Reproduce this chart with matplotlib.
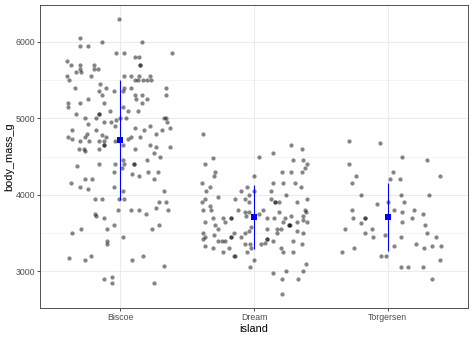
import matplotlib
matplotlib.use("Agg")
import matplotlib.pyplot as plt
from matplotlib.ticker import FixedLocator
import numpy as np

plt.rcParams['font.family'] = ['Liberation Sans', 'DejaVu Sans']

islands = ["Biscoe", "Dream", "Torgersen"]

biscoe_jitter = [
    -0.01, -0.30, -0.14, 0.16, -0.30, -0.24, -0.03, 0.03, 0.39, 0.11, 0.14,
    -0.40, 0.15, 0.15, -0.37, -0.30, -0.20, -0.30, -0.20, -0.17, -0.33, -0.29,
    -0.40, -0.22, 0.03, 0.08, 0.14, 0.22, -0.38, 0.11, 0.17, 0.20, 0.23, 0.13,
    -0.34, -0.15, -0.11, -0.05, 0.03, 0.08, 0.02, 0.34, -0.16, -0.14, 0.11,
    0.16, 0.34, 0.12, 0.20, -0.24, -0.39, -0.30, -0.39, -0.12, 0.16, 0.02,
    -0.08, 0.06, 0.13, -0.33, -0.16, -0.16, -0.18, -0.26, 0.00, 0.04, 0.33,
    0.34, -0.24, -0.12, -0.07, -0.03, -0.04, 0.35, 0.22, 0.11, 0.18, -0.36,
    -0.18, 0.31, 0.37, 0.27, -0.25, -0.14, -0.11, -0.39, -0.26, 0.08, 0.15,
    -0.36, -0.30, -0.23, -0.16, -0.12, -0.04, 0.06, -0.12, -0.12, 0.02, 0.22,
    0.27, 0.37, -0.31, -0.27, -0.26, -0.16, 0.11, 0.25, 0.30, 0.02, 0.03,
    -0.16, -0.04, 0.10, 0.10, 0.20, -0.32, 0.01, -0.05, 0.09, 0.14, 0.21,
    0.28, 0.25, -0.26, -0.21, -0.37, -0.30, -0.24, -0.05, 0.02, 0.33, -0.19,
    -0.14, -0.01, 0.03, 0.29, 0.34, 0.27, 0.36, -0.02, 0.08, 0.14, 0.19,
    -0.19, -0.18, -0.12, -0.29, -0.10, -0.05, -0.36, 0.24, 0.29, 0.02, -0.10,
    -0.10, -0.38, -0.26, -0.22, 0.09, 0.17, 0.33, -0.12, -0.06, -0.06, 0.25,
]
biscoe_mass = [
    6300, 6050, 6000, 6000, 5950, 5950, 5850, 5850, 5850, 5800, 5800,
    5750, 5700, 5700, 5700, 5700, 5700, 5650, 5650, 5650, 5600, 5600,
    5550, 5550, 5550, 5550, 5550, 5550, 5500, 5500, 5500, 5500, 5500, 5500,
    5400, 5450, 5400, 5350, 5400, 5400, 5350, 5400, 5350, 5300, 5300,
    5300, 5300, 5250, 5250, 5250, 5200, 5200, 5150, 5200, 5200, 5150,
    5100, 5100, 5100, 5050, 5050, 5050, 5000, 5000, 5000, 5000, 5000,
    5000, 4925, 4950, 4950, 4975, 4900, 4950, 4900, 4875, 4850, 4850,
    4850, 4850, 4875, 4800, 4800, 4775, 4750, 4750, 4750, 4750, 4750,
    4725, 4700, 4700, 4700, 4700, 4700, 4725, 4650, 4650, 4650, 4650,
    4625, 4625, 4600, 4600, 4575, 4600, 4600, 4550, 4500, 4450, 4400,
    4400, 4400, 4400, 4400, 4450, 4375, 4350, 4300, 4275, 4250, 4300,
    4300, 4200, 4200, 4200, 4150, 4100, 4075, 4100, 4050, 4050, 3950,
    3950, 3950, 3950, 3900, 3900, 3825, 3800, 3800, 3800, 3800, 3750,
    3750, 3725, 3700, 3550, 3550, 3600, 3500, 3550, 3600, 3450, 3400,
    3350, 3175, 3150, 3200, 3150, 3200, 3075, 2900, 2925, 2850, 2850,
]

dream_jitter = [
    -0.38, -0.31, -0.37, 0.04, 0.14, 0.28, 0.36, 0.29, 0.37, 0.40, 0.38,
    0.36, 0.28, 0.21, -0.29, -0.30, 0.00, -0.39, -0.33, -0.36, -0.27, -0.37,
    -0.39, -0.14, -0.10, -0.05, -0.04, -0.07, -0.04, 0.00, 0.13, 0.14, 0.22,
    0.31, 0.35, 0.13, 0.16, 0.16, 0.24, 0.19, 0.32, 0.40, -0.33, -0.32,
    -0.38, -0.12, -0.07, -0.04, -0.06, 0.07, 0.04, 0.19, 0.38, 0.39, 0.37,
    0.28, 0.23, 0.15, 0.10, -0.37, -0.31, -0.23, -0.17, -0.17, -0.22, -0.29,
    -0.27, -0.30, -0.38, -0.37, -0.38, -0.27, -0.24, -0.22, -0.17, -0.17,
    -0.15, -0.10, -0.07, -0.02, -0.04, 0.10, 0.17, 0.20, 0.17, 0.27, 0.32,
    0.37, 0.40, 0.32, 0.37, 0.26, 0.26, 0.22, 0.14, 0.10, 0.10, 0.08, 0.05,
    0.29, 0.36, -0.07, -0.03, -0.02, -0.37, -0.31, -0.23, -0.19, -0.15,
    -0.14, -0.05, 0.00, -0.03, 0.20, 0.22, 0.29, 0.39, 0.37, 0.24, 0.14,
    0.21, 0.33, 0.21,
]
dream_mass = [
    4800, 4475, 4400, 4500, 4550, 4650, 4600, 4450, 4450, 4400, 4350,
    4300, 4300, 4300, 4300, 4250, 4250, 4150, 4100, 4050, 3975, 3950,
    3900, 3950, 4050, 4100, 4000, 3950, 3900, 4050, 4050, 4150, 4150,
    4150, 4100, 3950, 3900, 3900, 4000, 3900, 3900, 3950, 3850, 3800,
    3800, 3800, 3775, 3775, 3725, 3800, 3750, 3775, 3800, 3775, 3725,
    3725, 3700, 3700, 3700, 3650, 3700, 3700, 3700, 3700, 3650, 3600,
    3550, 3475, 3500, 3450, 3425, 3400, 3400, 3400, 3450, 3450,
    3500, 3450, 3500, 3575, 3525, 3550, 3550, 3550, 3500, 3600, 3650,
    3675, 3650, 3525, 3500, 3600, 3600, 3650, 3400, 3425, 3425, 3375, 3350,
    3400, 3350, 3350, 3350, 3300, 3325, 3300, 3250, 3300, 3200,
    3200, 3250, 3150, 3050, 3300, 3250, 3250, 3100, 3000, 3000, 2975,
    2900, 2900, 2700,
]

torgersen_jitter = [
    -0.29, -0.06, 0.11, 0.29, -0.29, -0.24, 0.04, 0.02, 0.09, 0.39, -0.27,
    -0.20, 0.10, 0.31, 0.00, 0.12, -0.08, -0.27, 0.05, 0.11, 0.20, 0.26,
    -0.26, -0.17, -0.17, 0.18, -0.20, 0.11, 0.28, -0.32, -0.12, -0.17,
    -0.11, -0.02, 0.10, 0.29, 0.36, -0.25, -0.34, 0.05, 0.21, 0.27, 0.33,
    0.40, -0.05, -0.01, 0.39, 0.10, 0.15, 0.26, 0.33,
]
torgersen_mass = [
    4700, 4675, 4500, 4450, 4400, 4250, 4300, 4200, 4200, 4250, 4150,
    4000, 4000, 4000, 3900, 3900, 3875, 3800, 3800, 3775, 3800, 3750,
    3700, 3700, 3700, 3700, 3625, 3650, 3600, 3550, 3550, 3500,
    3450, 3475, 3450, 3500, 3450, 3300, 3250, 3325, 3350, 3300, 3325,
    3325, 3200, 3200, 3150, 3050, 3050, 3050, 2900,
]

mean_mass = [4716, 3713, 3706]
sd_mass = [782, 417, 445]

W, H, DPI = 474, 338, 72
fig = plt.figure(figsize=(W / DPI, H / DPI), dpi=DPI)
ax = fig.add_axes([40 / W, 1 - 308 / H, 428 / W, 303 / H])

jitters = [biscoe_jitter, dream_jitter, torgersen_jitter]
masses = [biscoe_mass, dream_mass, torgersen_mass]
for i, (jit, m) in enumerate(zip(jitters, masses)):
    xs = (i + 1) + np.asarray(jit)
    ax.scatter(xs, m, s=18, color="black", alpha=0.48, linewidths=0, zorder=3)

xpos = np.arange(1, len(islands) + 1)
means = np.asarray(mean_mass)
sds = np.asarray(sd_mass)
ax.vlines(xpos, means - sds, means + sds, color="blue", linewidth=1.1, zorder=4)
ax.scatter(xpos, means, marker="s", s=30, color="blue", linewidths=0, zorder=5)

ax.set_xlim(0.4, 3.6)
ax.set_ylim(2520, 6480)
ax.set_xticks(xpos)
ax.set_xticklabels(islands)
ax.yaxis.set_major_locator(FixedLocator([3000, 4000, 5000, 6000]))
ax.yaxis.set_minor_locator(FixedLocator([3500, 4500, 5500]))

ax.set_facecolor("white")
ax.grid(True, which="major", color="#EBEBEB", linewidth=1.07, zorder=0)
ax.grid(True, which="minor", axis="y", color="#EBEBEB", linewidth=0.53, zorder=0)
ax.set_axisbelow(True)
for sp in ax.spines.values():
    sp.set_color("#444444")
    sp.set_linewidth(0.9)

ax.tick_params(axis="both", which="major", length=2.75, width=0.9, color="#444444",
               labelsize=8.8, labelcolor="#4D4D4D", pad=2.2)
ax.tick_params(axis="y", which="minor", length=0)

ax.set_xlabel("island", fontsize=11, color="black", labelpad=2)
ax.set_ylabel("body_mass_g", fontsize=11, color="black", labelpad=1.5)

fig.savefig("out.png", dpi=DPI)
